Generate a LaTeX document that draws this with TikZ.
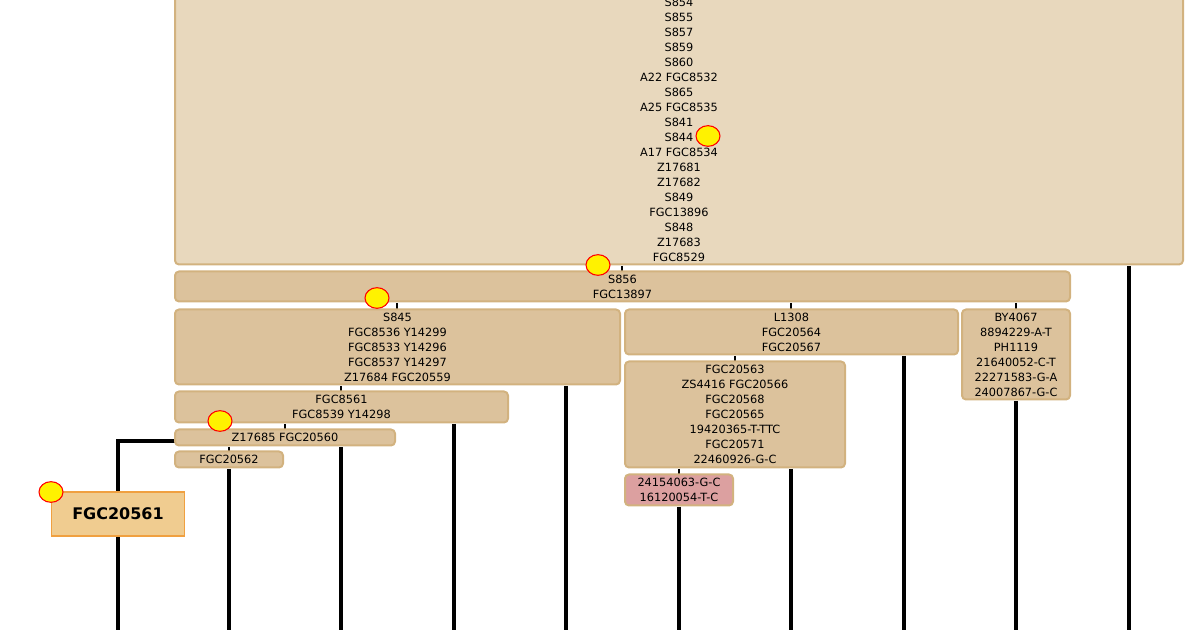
\documentclass[tikz,border=0pt]{standalone}
\usepackage{fontspec}
\setmainfont{DejaVu Sans}
\definecolor{topfill}{HTML}{E8D8BD}
\definecolor{boxfill}{HTML}{DCC29C}
\definecolor{boxline}{HTML}{D2B27F}
\definecolor{pinkfill}{HTML}{DCA0A0}
\definecolor{lblfill}{HTML}{F0CC90}
\definecolor{lblline}{HTML}{F0A040}
\tikzset{
  box/.style={draw=boxline,line width=1.5pt,rounded corners=3pt,fill=boxfill,inner sep=0pt,
    font=\fontsize{8.5}{11.25}\selectfont,align=center},
  stem/.style={line width=3pt,black},
  tick/.style={line width=2pt,black},
  dot/.style={ellipse,draw=red,line width=0.8pt,fill=yellow,minimum width=18pt,minimum height=15.5pt,inner sep=0pt}
}
\usetikzlibrary{shapes.geometric}
\newcommand{\bx}[7][boxfill]{%
  \node[box,fill=#1,minimum width={(#5-#3)*0.75pt},minimum height={(#6-#4)*0.75pt}] (#2) at ({(#3+#5)/2},{(#4+#6)/2+1.5}) {#7};}
\begin{document}
\begin{tikzpicture}[x=0.75pt,y=-0.75pt]
\useasboundingbox (0,0) rectangle (1200,630);
\clip (0,0) rectangle (1200,630);
% stems
\coordinate (e1) at (118,630);
\draw[stem] (e1) |- (175,441);
\foreach \x/\y in {229/469,341/447,454/424,566/386,679/507,791/469,904/356,1016/401,1129/266}
  \draw[stem] (\x,\y) -- (\x,630);
\foreach \x/\a/\b in {622/266/271,397/303/309,341/386/391,285/424/429,229/447/451,791/303/309,1016/303/309,735/356/361,679/469/474}
  \draw[tick] (\x,\a) -- (\x,\b);
\bx[topfill]{top}{175}{-6}{1183}{263}{S854\\S855\\S857\\S859\\S860\\A22 FGC8532\\S865\\A25 FGC8535\\S841\\S844\\A17 FGC8534\\Z17681\\Z17682\\S849\\FGC13896\\S848\\Z17683\\FGC8529}
\bx{s856}{175}{270}{1070}{300}{S856\\FGC13897}
\bx{s845}{175}{308}{620}{383}{S845\\FGC8536 Y14299\\FGC8533 Y14296\\FGC8537 Y14297\\Z17684 FGC20559}
\bx{l1308}{625}{308}{958}{353}{L1308\\FGC20564\\FGC20567}
\bx{by}{962}{308}{1070}{398}{BY4067\\8894229-A-T\\PH1119\\21640052-C-T\\22271583-G-A\\24007867-G-C}
\bx{f8561}{175}{390}{508}{421}{FGC8561\\FGC8539 Y14298}
\bx{f20563}{625}{360}{845}{466}{FGC20563\\ZS4416 FGC20566\\FGC20568\\FGC20565\\19420365-T-TTC\\FGC20571\\22460926-G-C}
\bx{z17685}{175}{428}{395}{444}{Z17685 FGC20560}
\bx{f20562}{175}{450}{283}{466}{FGC20562}
\bx[pinkfill]{pink}{625}{473}{733}{504}{24154063-G-C\\16120054-T-C}
\node[draw=lblline,line width=1pt,fill=lblfill,minimum width=100pt,minimum height=33pt,inner sep=0pt,font=\bfseries\fontsize{12}{15}\selectfont] (lbl) at (118,514) {FGC20561};
\foreach \n/\x/\y in {d1/708/136,d2/598/265,d3/377/298,d4/220/421,d5/51/492}
  \node[dot] (\n) at (\x,\y) {};
\end{tikzpicture}
\end{document}
